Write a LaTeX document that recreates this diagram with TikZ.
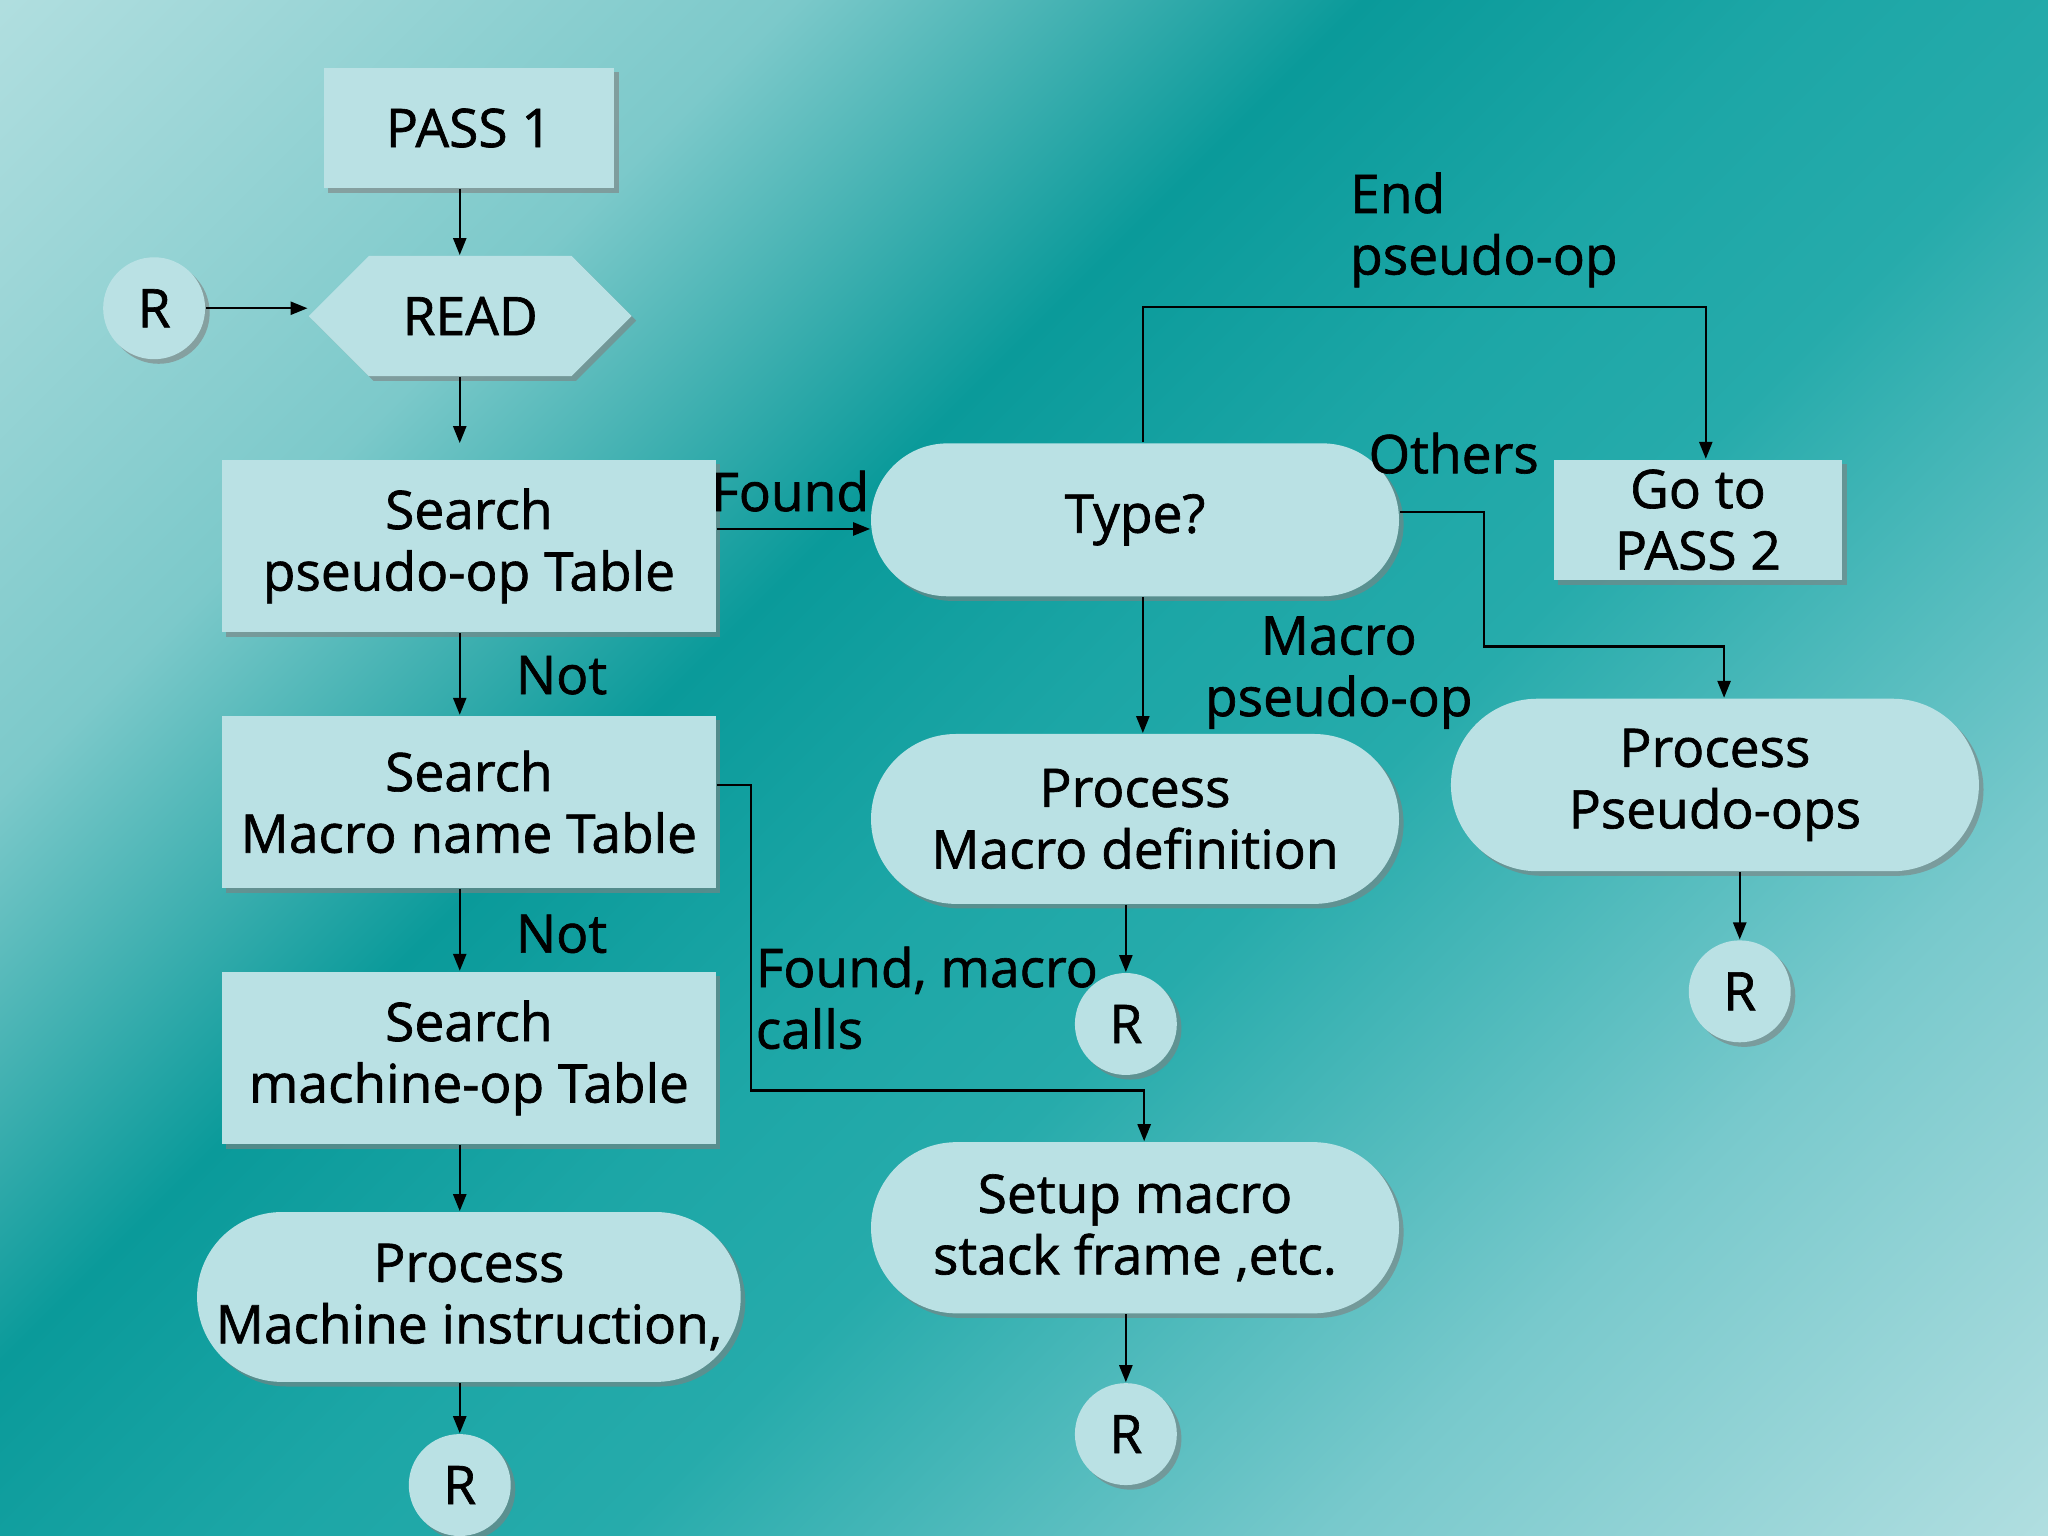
\documentclass[tikz,border=0pt]{standalone}
\usepackage{fontspec}
\setmainfont[FakeBold=1.2]{Open Sans}
\usepackage{xcolor}
\usetikzlibrary{arrows.meta, positioning, shapes.misc, shapes.symbols, shadows}

\definecolor{bga}{HTML}{B0DEDF}
\definecolor{bgb}{HTML}{7CC9CA}
\definecolor{bgc}{HTML}{0A9A9A}
\definecolor{bgd}{HTML}{1CA6A6}
\definecolor{bge}{HTML}{26ABAB}
\definecolor{bgf}{HTML}{78C9CC}
\definecolor{bgg}{HTML}{B0DEE0}
\definecolor{boxfill}{HTML}{BAE1E4}
\pgfdeclareverticalshading{bgshade}{100bp}{color(0bp)=(bgg); color(14.6bp)=(bgg);
  color(28.8bp)=(bgf); color(42.9bp)=(bge); color(50bp)=(bgd); color(58.5bp)=(bgc);
  color(69.8bp)=(bgb); color(85.4bp)=(bga); color(100bp)=(bga)}

\begin{document}
\begin{tikzpicture}[x=0.01cm, y=-0.01cm,
  font=\fontsize{11.6}{13.4}\selectfont,
  every node/.style={inner sep=0pt, align=center},
  shade box/.style={fill=boxfill, drop shadow={shadow xshift=1pt, shadow yshift=-1pt, fill=black!50, opacity=0.6}},
  rectbox/.style={shade box, rectangle, minimum width=3.78cm, minimum height=1.32cm},
  pillbox/.style={shade box, rounded rectangle, minimum width=4.04cm, minimum height=1.30cm},
  rnode/.style={shade box, circle, minimum size=0.78cm},
  arr/.style={-{Triangle[length=0.13cm, width=0.10cm]}, line width=0.5pt}]

  % background
  \shade[shading=bgshade, shading angle=45] (0,0) rectangle (1568,1176);
  \useasboundingbox (0,0) rectangle (1568,1176);

  % left column
  \node[shade box, rectangle, minimum width=2.22cm, minimum height=0.92cm] (pass1) at (359,98) {PASS 1};
  \node[shade box, signal, signal to=west and east, minimum width=2.47cm, minimum height=0.92cm] (read) at (360,242) {READ};
  \node[rnode] (r0) at (118,236) {R};
  \node[rectbox] (search1) at (359,418) {Search\\pseudo-op Table};
  \node[rectbox] (search2) at (359,614) {Search\\Macro name Table};
  \node[rectbox] (search3) at (359,810) {Search\\machine-op Table};
  \node[pillbox] (procmach) at (359,993) {Process\\Machine instruction,};
  \node[rnode] (r4) at (352,1137) {R};
  \coordinate (lx) at (352,0);

  % middle and right
  \node[pillbox, minimum height=1.17cm] (type) at (869,398) {Type?};
  \node[shade box, rectangle, minimum width=2.21cm, minimum height=0.92cm] (gopass2) at (1300,398) {Go to\\PASS 2};
  \node[pillbox, minimum height=1.32cm] (procps) at (1313,601) {Process\\Pseudo-ops};
  \node[rnode] (r3) at (1332,759) {R};
  \node[pillbox] (procmd) at (869,627) {Process\\Macro definition};
  \node[rnode] (r2) at (862,784) {R};
  \node[pillbox, minimum height=1.31cm] (setup) at (869,940) {Setup macro\\stack frame ,etc.};
  \node[rnode] (r5) at (862,1098) {R};

  % labels
  \node (found) at (605,376) {Found};
  \node (not1) at (430,517) {Not};
  \node (not2) at (430,715) {Not};
  \node[anchor=west, align=left] (endlbl) at (1033,176) {End\\pseudo-op};
  \node (others) at (1113,347) {Others};
  \node (macrolbl) at (1025,515) {Macro\\pseudo-op};
  \node[anchor=west, align=left] (calls) at (578,764) {Found, macro\\calls};

  % connectors
  \draw[arr] (pass1.south -| lx) -- (read.north -| lx);
  \draw[arr] (r0.east) -- (r0.east -| read.west);
  \draw[arr, shorten >=0.12cm] (read.south -| lx) -- (search1.north -| lx);
  \draw[arr] (search1.south -| lx) -- (search2.north -| lx);
  \draw[arr] (search2.south -| lx) -- (search3.north -| lx);
  \draw[arr] (search3.south -| lx) -- (procmach.north -| lx);
  \draw[arr] (procmach.south -| lx) -- (r4.north);
  \draw[arr] (search1.east |- 0,405) -- (type.west |- 0,405);
  \draw[arr] (type.north -| 875,0) |- (1306,235) -- (gopass2.north -| 1306,0);
  \draw[arr] (type.east |- 0,392) -| (1136,495) -| (procps.north -| 1320,0);
  \draw[arr] (type.south -| 875,0) -- (procmd.north -| 875,0);
  \draw[arr] (procmd.south -| 862,0) -- (r2.north);
  \draw[arr] (procps.south -| 1332,0) -- (r3.north);
  \draw[arr] (search2.east |- 0,601) -| (575,835) -| (setup.north -| 876,0);
  \draw[arr] (setup.south -| 862,0) -- (r5.north);
\end{tikzpicture}
\end{document}
